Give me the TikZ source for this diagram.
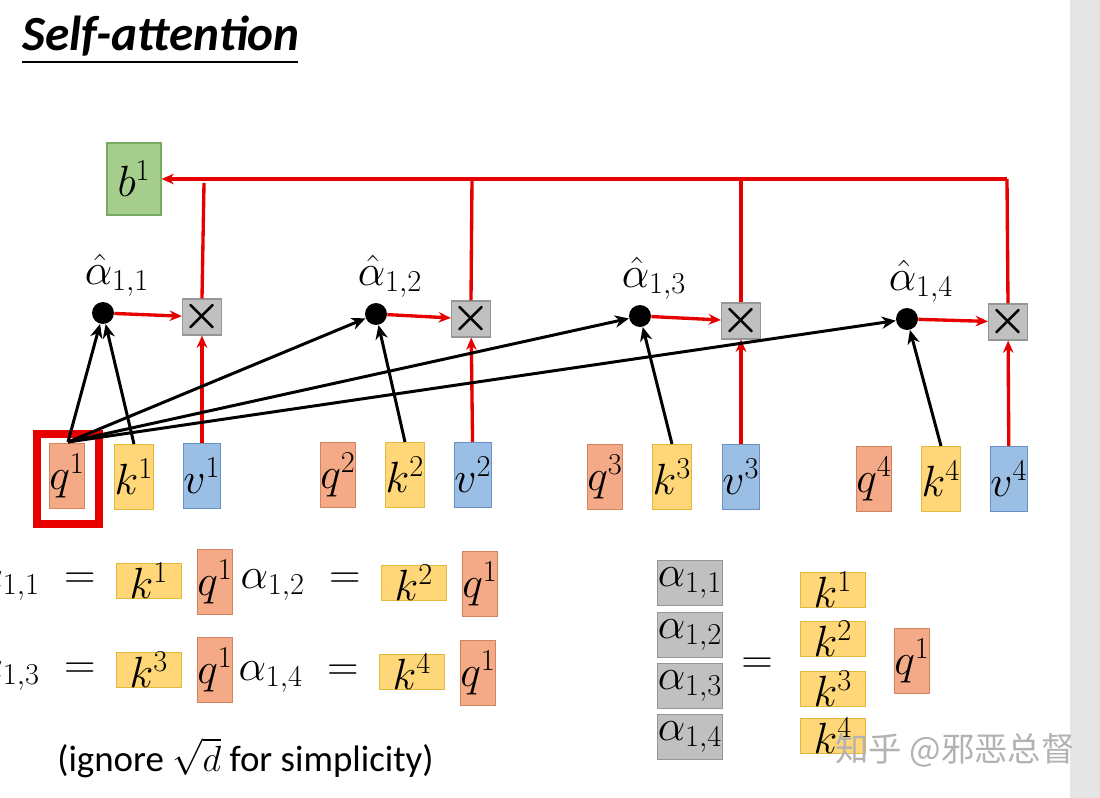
\documentclass[tikz,border=0pt]{standalone}
\usepackage{fontspec}
\usepackage{amsmath}
\setsansfont{Carlito}
\newfontfamily\cjk{Noto Sans CJK SC}
\usetikzlibrary{arrows.meta}
\definecolor{qf}{RGB}{244,170,135}\definecolor{qd}{RGB}{215,130,95}
\definecolor{kf}{RGB}{255,215,120}\definecolor{kd}{RGB}{225,185,60}
\definecolor{vf}{RGB}{155,190,228}\definecolor{vd}{RGB}{105,145,195}
\definecolor{gf}{RGB}{192,192,192}\definecolor{gd}{RGB}{150,150,150}
\definecolor{bf}{RGB}{165,205,140}\definecolor{bd}{RGB}{120,170,95}
\definecolor{rd}{RGB}{230,0,0}
\tikzset{
 bx/.style={inner sep=0pt,font=\fontsize{24}{28}\selectfont,line width=0.6pt},
 qb/.style={bx,fill=qf,draw=qd,minimum width=0.7cm,minimum height=1.3cm},
 kb/.style={bx,fill=kf,draw=kd,minimum width=0.7cm,minimum height=1.3cm},
 vb/.style={bx,fill=vf,draw=vd,minimum width=0.7cm,minimum height=1.3cm},
 kw/.style={bx,fill=kf,draw=kd,minimum width=1.3cm,minimum height=0.68cm},
 ab/.style={bx,fill=gf,draw=gd,minimum width=1.1cm,minimum height=0.9cm},
 xb/.style={bx,fill=gf,draw=gd,minimum size=0.72cm,font=\fontsize{34}{34}\selectfont},
 dot/.style={circle,fill=black,minimum size=0.44cm,inner sep=0pt},
 lbl/.style={font=\fontsize{24}{28}\selectfont,inner sep=0pt},
 blk/.style={line width=1.7pt,-{Stealth[length=8pt,width=7pt]}},
 red/.style={draw=rd,line width=1.9pt,-{Stealth[length=7pt,width=6pt]}},
 redl/.style={draw=rd,line width=1.9pt},
}
\begin{document}
\begin{tikzpicture}[x=0.02cm,y=-0.02cm]
\useasboundingbox (0,0) rectangle (1100,798);
\fill[black!10] (1070,0) rectangle (1100,798);
\node[anchor=west,inner sep=0pt,font=\sffamily\bfseries\itshape\fontsize{28}{32}\selectfont] (title) at (22,36) {Self-attention};
\draw[line width=1.2pt] (22,62) -- (298,62);
% b1
\node[bx,fill=bf,draw=bd,minimum width=1.08cm,minimum height=1.44cm] (b1) at (134,179) {$b^1$};
% dots, x boxes
\foreach \i/\dx/\dy/\xx/\xy in {1/103/313/202/317,2/376/314/471/319,3/640/316/741/321,4/907/319/1008/322}{
 \node[dot] (d\i) at (\dx,\dy) {};
 \node[lbl,anchor=south] (h\i) at (\dx+14,\dy-16) {$\hat{\alpha}_{1,\i}$};
 \node[xb] (x\i) at (\xx,\xy) {$\boldsymbol{\times}$};
 \draw[red] (d\i) -- (x\i);
}
% bottom boxes
\node[qb] (q1) at (67,476) {$q^1$};
\node[kb] (k1) at (134,477) {$k^1$};
\node[vb] (v1) at (202,476) {$v^1$};
\node[qb] (q2) at (338,475) {$q^2$};
\node[kb] (k2) at (405,475) {$k^2$};
\node[vb] (v2) at (473,475) {$v^2$};
\node[qb] (q3) at (605,477) {$q^3$};
\node[kb] (k3) at (672,477) {$k^3$};
\node[vb] (v3) at (741,477) {$v^3$};
\node[qb] (q4) at (874,479) {$q^4$};
\node[kb] (k4) at (941,479) {$k^4$};
\node[vb] (v4) at (1009,479) {$v^4$};
\draw[rd,line width=4pt] (37,434) rectangle (99,524);
% red top lines
\coordinate (t1) at (204,183);
\coordinate (t2) at (472,179);
\coordinate (t3) at (741,179);
\coordinate (t4) at (1007,179);
\draw[redl] (x1.north) -- (t1);
\draw[redl] (x2.north) -- (t2);
\draw[redl] (x3.north) -- (t3);
\draw[redl] (x4.north) -- (t4);
\draw[red] (t4) -- (b1.east);
\foreach \i in {1,2,3,4}{ \draw[red] (v\i) -- (x\i); }
% black arrows
\coordinate (qs) at (68,442);
\foreach \i in {1,2,3,4}{ \draw[blk] (qs) -- (d\i); \draw[blk] (k\i.north) -- (d\i); }
% equations left
\node[lbl,anchor=east] (e1) at (96,585) {$\alpha_{1,1}\;=$};
\node[kw] (ek1) at (149,581) {$k^1$};
\node[qb] (eq1) at (215,582) {$q^1$};
\node[lbl,anchor=east] (e2) at (361,585) {$\alpha_{1,2}\;=$};
\node[kw] (ek2) at (414,583) {$k^2$};
\node[qb] (eq2) at (480,584) {$q^1$};
\node[lbl,anchor=east] (e3) at (96,675) {$\alpha_{1,3}\;=$};
\node[kw] (ek3) at (149,670) {$k^3$};
\node[qb] (eq3) at (215,670) {$q^1$};
\node[lbl,anchor=east] (e4) at (359,677) {$\alpha_{1,4}\;=$};
\node[kw] (ek4) at (412,672) {$k^4$};
\node[qb] (eq4) at (478,673) {$q^1$};
\node[anchor=west,inner sep=0pt,font=\sffamily\fontsize{21}{24}\selectfont] (ign) at (57,758) {(ignore $\sqrt{d}$ for simplicity)};
% right matrix
\node[ab] (a1) at (690,583) {$\alpha_{1,1}$};
\node[ab] (a2) at (690,635) {$\alpha_{1,2}$};
\node[ab] (a3) at (690,686) {$\alpha_{1,3}$};
\node[ab] (a4) at (690,737) {$\alpha_{1,4}$};
\node[lbl] (eqs) at (757,666) {$=$};
\node[kw] (m1) at (833,590) {$k^1$};
\node[kw] (m2) at (833,639) {$k^2$};
\node[kw] (m3) at (833,689) {$k^3$};
\node[kw] (m4) at (833,736) {$k^4$};
\node[qb] (mq) at (912,661) {$q^1$};
\node[anchor=west,inner sep=0pt,text=black!30,font=\cjk\fontsize{19}{22}\selectfont] (wm) at (835,750) {知乎 @邪恶总督};
\end{tikzpicture}
\end{document}
